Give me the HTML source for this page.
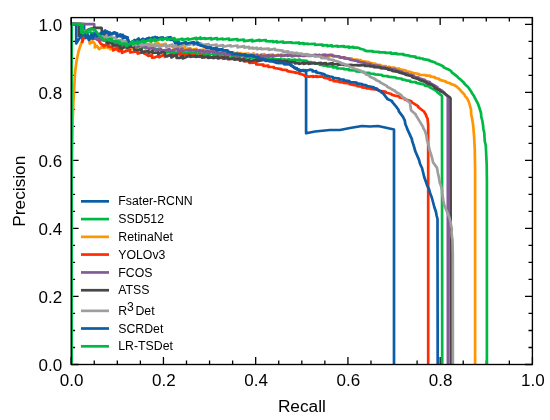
<!DOCTYPE html>
<html><head><meta charset="utf-8"><title>PR curve</title>
<style>html,body{margin:0;padding:0;background:#fff}svg{display:block}</style></head>
<body>
<svg width="550" height="420" viewBox="0 0 550 420">
<rect width="550" height="420" fill="#fff"/>
<defs><clipPath id="c"><rect x="71.2" y="17.6" width="461.2" height="346.9"/></clipPath></defs>
<path d="M71.20 364.5 v-7.4 M71.20 17.6 v7.4 M94.26 364.5 v-3.9 M94.26 17.6 v3.9 M117.32 364.5 v-3.9 M117.32 17.6 v3.9 M140.38 364.5 v-3.9 M140.38 17.6 v3.9 M163.44 364.5 v-7.4 M163.44 17.6 v7.4 M186.50 364.5 v-3.9 M186.50 17.6 v3.9 M209.56 364.5 v-3.9 M209.56 17.6 v3.9 M232.62 364.5 v-3.9 M232.62 17.6 v3.9 M255.68 364.5 v-7.4 M255.68 17.6 v7.4 M278.74 364.5 v-3.9 M278.74 17.6 v3.9 M301.80 364.5 v-3.9 M301.80 17.6 v3.9 M324.86 364.5 v-3.9 M324.86 17.6 v3.9 M347.92 364.5 v-7.4 M347.92 17.6 v7.4 M370.98 364.5 v-3.9 M370.98 17.6 v3.9 M394.04 364.5 v-3.9 M394.04 17.6 v3.9 M417.10 364.5 v-3.9 M417.10 17.6 v3.9 M440.16 364.5 v-7.4 M440.16 17.6 v7.4 M463.22 364.5 v-3.9 M463.22 17.6 v3.9 M486.28 364.5 v-3.9 M486.28 17.6 v3.9 M509.34 364.5 v-3.9 M509.34 17.6 v3.9 M532.40 364.5 v-7.4 M532.40 17.6 v7.4 M71.2 364.50 h7.4 M532.4 364.50 h-7.4 M71.2 347.49 h3.9 M532.4 347.49 h-3.9 M71.2 330.48 h3.9 M532.4 330.48 h-3.9 M71.2 313.47 h3.9 M532.4 313.47 h-3.9 M71.2 296.46 h7.4 M532.4 296.46 h-7.4 M71.2 279.45 h3.9 M532.4 279.45 h-3.9 M71.2 262.44 h3.9 M532.4 262.44 h-3.9 M71.2 245.43 h3.9 M532.4 245.43 h-3.9 M71.2 228.42 h7.4 M532.4 228.42 h-7.4 M71.2 211.41 h3.9 M532.4 211.41 h-3.9 M71.2 194.40 h3.9 M532.4 194.40 h-3.9 M71.2 177.39 h3.9 M532.4 177.39 h-3.9 M71.2 160.38 h7.4 M532.4 160.38 h-7.4 M71.2 143.37 h3.9 M532.4 143.37 h-3.9 M71.2 126.36 h3.9 M532.4 126.36 h-3.9 M71.2 109.35 h3.9 M532.4 109.35 h-3.9 M71.2 92.34 h7.4 M532.4 92.34 h-7.4 M71.2 75.33 h3.9 M532.4 75.33 h-3.9 M71.2 58.32 h3.9 M532.4 58.32 h-3.9 M71.2 41.31 h3.9 M532.4 41.31 h-3.9 M71.2 24.30 h7.4 M532.4 24.30 h-7.4" stroke="#000" stroke-width="1.3" fill="none"/>
<g clip-path="url(#c)" fill="none" stroke-width="2.7" stroke-linejoin="round" stroke-linecap="butt">
<path d="M71.5 24.2 L84.0 24.2 L84.4 37.0 L87.0 34.0 L89.0 40.0 L92.0 35.0 L94.0 38.0 L97.0 34.0 L100.0 36.0 L101.0 33.0 L101.0 34.9 L105.2 30.5 L105.2 33.7 L107.0 32.4 L109.0 33.2 L109.9 32.5 L109.9 35.6 L114.0 33.2 L116.7 33.9 L116.7 36.7 L117.0 36.6 L120.3 34.3 L120.3 36.4 L122.0 36.3 L125.0 36.4 L127.7 37.4 L127.7 39.8 L128.0 39.9 L129.0 42.0 L129.0 42.8 L131.0 42.4 L135.0 40.8 L137.0 40.1 L137.0 42.4 L143.2 38.8 L143.2 40.8 L145.0 39.9 L147.8 38.6 L147.8 40.2 L152.4 37.7 L152.4 39.6 L157.1 37.5 L157.1 39.2 L158.0 38.8 L162.9 37.5 L162.9 39.2 L165.0 38.5 L170.6 37.2 L170.6 40.0 L172.0 39.1 L175.0 40.8 L175.0 43.1 L176.0 43.9 L179.1 42.1 L179.1 45.0 L186.1 42.3 L186.1 44.1 L193.8 42.5 L193.8 44.1 L197.0 43.0 L200.2 43.6 L200.2 45.4 L205.0 46.8 L206.3 46.8 L206.3 48.2 L211.0 47.5 L211.0 49.0 L215.0 48.2 L215.3 48.2 L215.3 49.7 L222.2 49.4 L222.2 51.0 L225.0 50.7 L228.3 50.9 L228.3 52.4 L232.0 53.0 L233.7 52.9 L233.7 54.2 L237.4 52.9 L237.4 54.7 L240.0 54.7 L243.9 54.5 L243.9 56.1 L249.9 54.8 L249.9 56.7 L252.0 56.5 L256.1 56.7 L256.1 58.3 L262.0 58.3 L262.2 58.2 L262.2 59.4 L268.0 59.8 L268.0 60.6 L275.0 61.5 L276.3 61.6 L276.3 62.9 L283.9 62.9 L283.9 64.0 L290.0 64.2 L291.4 65.0 L291.4 65.8 L295.0 67.7 L297.0 68.3 L297.0 69.4 L300.0 70.5 L303.4 70.0 L303.4 70.9 L306.1 70.5 L306.1 133.3 L315.0 131.5 L330.0 130.0 L340.0 130.0 L350.0 128.0 L362.0 126.0 L370.0 126.5 L378.0 126.0 L385.0 127.5 L394.0 129.5 L394.0 364.5" stroke="#0C5DA5"/>
<path d="M71.5 24.2 L81.2 24.2 L81.2 33.5 L86.0 33.0 L90.0 32.0 L100.0 38.0 L100.0 40.0 L108.3 40.5 L108.3 43.2 L110.0 42.3 L112.2 40.8 L112.2 43.7 L119.1 42.9 L119.1 45.9 L125.0 45.3 L125.6 45.1 L125.6 47.3 L131.2 44.7 L131.2 48.4 L139.7 45.5 L139.7 47.8 L140.0 47.8 L145.4 46.7 L145.4 48.3 L149.1 46.6 L149.1 48.9 L150.0 48.5 L154.5 47.4 L154.5 49.3 L160.8 49.3 L160.8 50.6 L165.9 50.0 L165.9 52.3 L170.0 52.3 L174.4 51.5 L174.4 53.6 L182.4 51.3 L182.4 53.5 L190.0 52.1 L190.4 52.1 L190.4 54.1 L195.7 52.3 L195.7 54.2 L200.0 52.7 L200.0 54.3 L205.8 53.2 L205.8 54.6 L213.9 53.4 L213.9 55.4 L219.2 53.6 L219.2 55.5 L225.0 54.0 L225.0 55.7 L225.0 55.7 L232.1 55.2 L232.1 56.6 L237.2 55.7 L237.2 56.8 L240.0 56.5 L245.3 55.9 L245.3 58.0 L250.3 56.4 L250.3 58.0 L256.3 56.9 L256.3 58.3 L260.0 58.0 L262.8 57.7 L262.8 58.9 L268.8 58.1 L268.8 59.3 L272.7 58.3 L272.7 59.3 L280.0 59.0 L280.7 58.9 L280.7 60.1 L284.5 59.2 L284.5 60.3 L289.2 59.4 L289.2 60.4 L295.3 59.5 L295.3 60.6 L299.8 59.5 L299.8 60.3 L300.0 60.3 L306.9 60.9 L306.9 62.0 L310.0 62.0 L311.3 62.0 L311.3 62.6 L319.6 63.8 L319.6 64.8 L320.0 64.8 L323.2 64.6 L323.2 65.6 L327.4 65.6 L327.4 66.5 L328.0 66.5 L332.9 66.4 L332.9 67.4 L337.1 67.4 L337.1 68.4 L340.0 68.5 L343.7 68.6 L343.7 69.1 L348.9 69.4 L348.9 70.2 L355.0 70.4 L356.2 70.5 L356.2 71.5 L363.5 71.8 L363.5 72.5 L369.4 72.8 L369.4 73.5 L374.4 73.8 L374.4 74.3 L375.0 74.4 L382.3 75.0 L382.3 75.8 L387.8 76.1 L387.8 76.6 L390.0 76.8 L396.1 77.5 L396.1 78.1 L400.0 78.5 L401.7 78.7 L401.7 79.3 L405.9 80.0 L405.9 80.4 L410.0 80.8 L410.2 80.8 L410.2 81.8 L416.2 82.2 L416.2 83.0 L420.0 83.6 L424.7 84.8 L424.7 85.6 L429.5 86.4 L429.5 87.3 L430.0 87.4 L437.0 91.2 L437.0 91.9 L437.0 91.9 L442.0 95.9 L442.2 364.5" stroke="#00B945"/>
<path d="M71.2 364.5 L71.3 210.0 L71.9 160.0 L72.7 120.0 L73.5 100.0 L74.3 86.0 L75.0 73.0 L76.4 62.0 L78.6 51.0 L81.3 43.3 L83.0 39.0 L84.5 36.3 L87.0 35.5 L89.0 36.3 L89.7 43.5 L93.0 41.5 L95.0 44.0 L94.8 47.5 L97.0 46.0 L99.0 49.0 L103.0 46.5 L103.7 46.4 L103.7 48.0 L106.0 46.7 L108.0 48.0 L110.2 46.6 L110.2 49.3 L112.0 47.4 L113.8 46.8 L113.8 50.0 L116.0 49.4 L118.4 47.2 L118.4 50.0 L122.0 48.0 L126.1 45.7 L126.1 48.9 L128.0 47.1 L130.4 44.9 L130.4 48.6 L135.0 45.7 L136.5 44.7 L136.5 47.7 L140.3 44.9 L140.3 46.6 L141.0 46.3 L145.3 43.8 L145.3 46.6 L150.0 43.6 L151.2 43.0 L151.2 45.9 L158.0 43.1 L158.3 43.1 L158.3 45.1 L163.0 44.4 L165.8 43.9 L165.8 46.1 L173.7 46.1 L173.7 48.3 L175.0 47.8 L178.2 46.5 L178.2 48.4 L184.9 47.4 L184.9 49.1 L185.0 49.1 L190.3 48.2 L190.3 50.1 L196.7 48.8 L196.7 50.7 L200.0 50.2 L204.9 49.6 L204.9 51.2 L211.7 50.6 L211.7 52.6 L215.0 52.3 L220.1 51.7 L220.1 53.0 L227.1 52.2 L227.1 53.8 L230.0 53.6 L233.5 53.1 L233.5 54.6 L241.3 53.1 L241.3 54.2 L242.0 54.1 L248.0 53.6 L248.8 53.6 L248.8 55.0 L253.7 53.5 L253.7 55.3 L257.5 54.4 L257.5 55.4 L260.0 55.0 L264.5 54.1 L264.5 55.7 L272.9 54.7 L272.9 55.7 L275.0 55.5 L278.0 54.7 L278.0 55.7 L281.7 54.6 L281.7 55.4 L288.2 54.3 L288.2 55.0 L290.0 54.7 L296.0 54.4 L296.0 55.6 L300.0 55.5 L304.0 55.0 L304.0 56.1 L310.1 54.9 L310.1 56.1 L316.4 54.8 L316.4 56.0 L320.0 55.3 L322.5 55.0 L322.5 56.0 L327.1 55.0 L327.1 56.3 L333.3 55.7 L333.3 56.5 L335.0 56.3 L338.8 56.4 L338.8 57.2 L345.4 57.4 L345.4 58.1 L350.0 58.3 L352.0 58.5 L352.0 59.4 L357.3 59.5 L357.3 60.2 L360.9 60.2 L360.9 61.0 L365.0 61.5 L369.2 62.2 L369.2 62.9 L375.7 63.9 L375.7 64.5 L380.8 65.0 L380.8 65.8 L385.0 66.2 L385.8 66.2 L385.8 67.0 L389.4 66.8 L389.4 67.5 L394.4 67.6 L394.4 68.3 L399.1 68.5 L399.1 69.1 L400.0 69.2 L406.1 70.5 L406.1 71.3 L410.0 71.9 L411.3 72.0 L411.3 72.6 L419.1 74.0 L419.1 74.8 L420.0 74.9 L425.8 75.0 L425.8 75.6 L430.0 75.7 L430.5 75.8 L430.5 76.6 L434.9 77.2 L434.9 78.0 L439.3 78.8 L439.3 79.7 L440.0 79.9 L446.0 81.6 L446.0 82.1 L450.0 83.2 L450.2 83.2 L450.2 83.8 L455.0 85.4 L455.0 85.8 L456.0 86.1 L460.6 90.3 L460.6 90.8 L462.0 92.0 L464.9 95.1 L464.9 95.9 L467.0 98.2 L468.9 102.0 L470.0 106.0 L471.1 110.0 L471.1 114.0 L472.0 118.0 L472.7 122.2 L473.3 126.5 L473.6 130.8 L474.0 135.0 L474.8 150.0 L475.1 170.0 L475.1 364.5" stroke="#FF9500"/>
<path d="M71.5 24.2 L82.3 24.2 L82.3 42.0 L84.3 36.0 L88.0 37.0 L92.0 39.0 L96.0 38.0 L99.0 41.0 L101.0 44.0 L103.7 45.3 L103.7 46.2 L104.0 46.2 L108.0 43.2 L108.0 46.3 L108.0 46.3 L112.0 47.0 L113.0 49.0 L113.0 50.5 L117.0 47.7 L117.6 48.1 L117.6 50.1 L119.0 51.3 L122.0 50.0 L122.0 52.9 L125.0 51.5 L130.1 49.7 L130.1 52.5 L135.0 51.6 L137.6 51.1 L137.6 53.6 L144.2 51.5 L144.2 53.6 L145.0 53.5 L148.0 55.8 L152.1 55.4 L152.1 57.7 L155.0 57.3 L159.0 55.8 L159.0 57.2 L163.0 55.2 L164.9 54.3 L164.9 57.0 L172.7 54.3 L172.7 56.3 L175.0 55.4 L180.7 53.5 L180.7 55.7 L188.5 54.3 L188.5 55.7 L190.0 55.4 L195.0 55.0 L195.0 56.5 L200.0 55.6 L200.0 56.8 L203.7 55.8 L203.7 57.1 L209.9 56.4 L209.9 57.5 L210.0 57.5 L218.4 56.9 L218.4 58.4 L222.9 57.3 L222.9 58.8 L225.0 58.3 L228.2 57.6 L228.2 59.2 L234.5 58.2 L234.5 59.2 L238.3 58.0 L238.3 59.4 L240.0 59.2 L244.9 59.8 L244.9 61.2 L249.3 61.4 L249.3 62.8 L250.0 62.8 L256.2 62.4 L256.2 64.5 L263.4 64.7 L263.4 65.9 L265.0 65.8 L268.4 65.6 L268.4 67.0 L273.9 67.0 L273.9 68.0 L280.0 68.8 L281.5 69.0 L281.5 69.7 L287.2 70.2 L287.2 71.1 L295.0 72.3 L295.5 72.3 L295.5 73.0 L299.3 72.7 L299.3 73.8 L300.0 73.8 L304.6 75.3 L304.6 76.1 L305.0 76.2 L309.0 76.6 L313.0 76.2 L313.0 76.9 L316.8 76.2 L316.8 76.9 L322.0 76.4 L323.7 76.9 L323.7 77.6 L327.0 78.3 L329.6 78.6 L329.6 79.8 L333.7 79.8 L333.7 81.2 L337.0 81.3 L339.3 81.2 L339.3 82.2 L344.0 82.3 L344.0 82.9 L347.0 83.1 L349.6 83.3 L349.6 84.2 L357.2 85.6 L357.2 86.1 L360.0 86.5 L362.0 86.7 L362.0 87.5 L365.0 87.7 L366.7 87.8 L366.7 88.5 L370.4 88.3 L370.4 89.0 L375.0 89.4 L378.9 90.0 L378.9 90.9 L385.0 91.6 L385.7 91.8 L385.7 92.5 L391.6 94.0 L391.6 94.8 L395.0 95.6 L399.5 96.5 L399.5 97.5 L404.7 98.4 L404.7 99.4 L405.0 99.4 L411.4 101.4 L411.4 102.2 L412.0 102.4 L418.0 106.2 L418.2 106.3 L418.2 107.2 L424.0 111.5 L426.3 115.5 L426.3 116.3 L427.5 118.4 L428.2 125.0 L428.2 364.5" stroke="#FF2C00"/>
<path d="M71.5 24.2 L94.2 24.2 L94.5 38.0 L97.0 39.5 L100.0 38.0 L100.0 39.7 L105.0 40.1 L106.6 39.6 L106.6 43.2 L112.0 42.3 L114.8 41.7 L114.8 45.1 L118.5 42.6 L118.5 46.6 L120.0 46.3 L125.2 44.4 L125.2 46.3 L130.0 44.5 L131.1 44.0 L131.1 46.3 L137.4 44.5 L137.4 47.0 L140.0 45.5 L142.3 44.7 L142.3 47.5 L146.6 46.5 L146.6 47.8 L150.0 48.0 L153.2 48.2 L153.2 49.6 L158.0 49.8 L161.1 49.2 L161.1 51.5 L169.5 49.1 L169.5 51.1 L170.0 51.0 L177.8 48.7 L177.8 51.5 L182.3 48.7 L182.3 51.0 L190.0 49.5 L190.6 49.5 L190.6 50.6 L196.0 50.1 L196.0 51.2 L199.8 50.2 L199.8 51.8 L200.0 51.8 L203.3 50.6 L203.3 52.2 L208.3 50.8 L208.3 52.3 L213.4 51.0 L213.4 53.0 L215.0 52.5 L217.2 51.9 L217.2 53.3 L224.5 53.0 L224.5 54.1 L225.0 54.0 L231.9 53.7 L231.9 55.0 L235.0 54.6 L235.4 54.5 L235.4 55.6 L243.7 54.7 L243.7 56.6 L250.0 55.8 L251.9 55.4 L251.9 56.8 L257.1 55.1 L257.1 56.9 L261.2 55.0 L261.2 56.3 L265.0 55.8 L269.0 55.2 L269.0 56.4 L272.9 55.3 L272.9 56.3 L281.0 55.0 L281.0 56.1 L287.3 55.2 L287.3 55.9 L291.6 55.2 L291.6 56.3 L295.0 55.7 L298.6 55.2 L298.6 56.2 L302.3 55.0 L302.3 55.9 L307.9 54.9 L307.9 56.0 L310.0 55.7 L315.5 54.8 L315.5 56.0 L319.3 54.8 L319.3 55.8 L322.0 55.2 L325.2 54.7 L325.2 55.7 L330.0 54.9 L332.4 54.9 L332.4 55.8 L339.8 56.5 L339.8 57.6 L344.1 57.4 L344.1 58.4 L345.0 58.4 L349.8 58.8 L349.8 59.6 L358.2 61.2 L358.2 61.9 L360.0 62.2 L365.4 62.9 L365.4 63.5 L370.9 64.1 L370.9 65.0 L379.3 65.9 L379.3 66.7 L380.0 66.8 L385.3 67.3 L385.3 68.0 L390.2 68.0 L390.2 69.0 L395.0 69.1 L395.5 69.2 L395.5 70.1 L400.0 71.4 L402.5 71.8 L402.5 72.7 L407.8 73.5 L407.8 74.3 L410.0 74.6 L413.7 75.5 L413.7 76.5 L418.7 77.5 L418.7 78.2 L420.0 78.6 L425.1 80.1 L425.1 81.0 L429.8 82.1 L429.8 82.9 L430.0 82.9 L437.4 87.1 L437.4 88.0 L438.0 88.3 L442.7 91.2 L442.7 91.9 L445.0 93.6 L447.8 96.8 L447.9 364.5" stroke="#845B97"/>
<path d="M71.5 24.2 L78.9 24.2 L78.9 36.0 L82.0 33.0 L86.0 31.0 L90.0 29.0 L94.5 27.8 L101.5 27.8 L102.0 31.5 L102.0 32.2 L104.0 35.7 L106.8 38.6 L106.8 42.0 L108.0 43.2 L112.0 43.1 L112.7 43.0 L112.7 45.4 L117.0 45.4 L120.0 45.4 L120.0 48.5 L122.0 48.5 L127.2 45.6 L127.2 48.0 L130.0 46.5 L134.1 47.0 L134.1 49.6 L135.0 49.7 L140.0 49.8 L141.6 49.3 L141.6 52.6 L148.5 50.9 L148.5 53.2 L150.0 52.4 L152.5 50.9 L152.5 53.0 L158.0 52.3 L158.2 52.2 L158.2 53.9 L163.0 52.1 L164.9 52.9 L164.9 55.2 L167.0 56.1 L171.3 54.8 L171.3 57.5 L175.0 55.4 L176.6 55.1 L176.6 57.9 L180.0 57.8 L182.7 56.2 L182.7 58.5 L190.0 55.6 L190.2 55.6 L190.2 56.8 L195.5 56.0 L195.5 57.0 L200.0 56.4 L202.0 56.1 L202.0 57.6 L208.1 56.5 L208.1 57.9 L210.0 57.6 L213.2 56.9 L213.2 58.1 L217.4 56.7 L217.4 58.1 L224.4 57.0 L224.4 58.6 L225.0 58.3 L227.9 57.4 L227.9 59.0 L234.5 58.6 L234.5 59.7 L240.0 58.9 L240.0 60.7 L240.0 60.7 L243.8 59.2 L243.8 61.2 L249.2 59.7 L249.2 61.3 L255.0 60.2 L257.6 59.6 L257.6 61.2 L265.6 59.5 L265.6 61.0 L273.1 60.0 L273.1 61.0 L275.0 60.8 L280.1 60.7 L280.1 61.4 L287.3 61.2 L287.3 62.1 L290.0 62.1 L294.8 62.4 L294.8 63.3 L298.9 62.9 L298.9 63.8 L300.0 63.7 L303.7 62.8 L303.7 63.9 L308.4 62.7 L308.4 63.8 L315.0 62.9 L315.0 63.7 L320.9 62.9 L320.9 64.0 L322.0 63.7 L325.9 63.1 L325.9 64.3 L332.7 63.2 L332.7 64.5 L337.0 64.0 L338.1 63.9 L338.1 64.8 L343.6 64.1 L343.6 65.0 L347.0 65.1 L351.8 64.9 L351.8 65.3 L357.5 65.0 L357.5 65.5 L360.0 65.3 L364.9 65.0 L364.9 66.0 L365.0 66.0 L370.2 65.8 L370.2 66.5 L374.0 66.3 L374.0 67.2 L380.6 67.4 L380.6 68.2 L385.0 68.4 L388.1 69.0 L388.1 69.7 L392.1 70.2 L392.1 70.8 L398.8 71.9 L398.8 72.4 L400.0 72.6 L405.4 74.2 L405.4 74.7 L410.0 75.8 L412.1 76.3 L412.1 77.3 L418.8 79.3 L418.8 79.7 L420.0 80.1 L426.4 82.2 L426.4 83.1 L430.0 84.1 L434.5 86.6 L434.5 87.5 L438.0 89.4 L440.3 90.3 L440.3 91.2 L444.4 92.8 L444.4 93.5 L445.0 93.8 L450.1 97.5 L450.1 98.0 L450.5 98.3 L450.8 364.5" stroke="#474747"/>
<path d="M71.5 24.2 L81.8 24.2 L81.8 31.0 L88.0 30.5 L92.0 29.5 L95.0 31.0 L98.0 34.5 L101.0 36.5 L103.1 36.5 L103.1 38.0 L104.0 37.4 L107.0 35.6 L107.0 38.3 L110.8 36.5 L110.8 38.1 L113.0 37.7 L116.4 37.9 L116.4 40.6 L120.0 40.1 L122.1 39.9 L122.1 42.4 L126.7 40.5 L126.7 43.8 L128.0 43.6 L133.1 41.6 L133.1 45.5 L136.8 43.0 L136.8 44.8 L140.0 44.0 L141.0 43.7 L141.0 45.3 L148.6 44.1 L148.6 46.2 L155.3 44.6 L155.3 46.4 L158.0 45.6 L159.1 45.2 L159.1 47.0 L166.0 44.8 L166.0 46.7 L170.0 45.3 L172.4 44.5 L172.4 46.7 L179.9 44.4 L179.9 46.3 L185.0 44.0 L186.3 43.4 L186.3 45.5 L193.4 43.4 L193.4 45.1 L197.5 43.2 L197.5 44.9 L200.0 44.1 L201.8 43.8 L201.8 45.1 L205.0 44.6 L208.6 44.1 L208.6 45.5 L215.0 44.9 L216.5 44.7 L216.5 46.3 L223.0 45.1 L223.0 46.8 L230.0 45.4 L230.7 45.3 L230.7 46.5 L237.5 45.5 L237.5 47.5 L240.0 46.8 L244.2 46.1 L244.2 47.7 L249.1 46.9 L249.1 48.4 L252.8 47.7 L252.8 48.6 L255.0 48.2 L256.8 47.7 L256.8 49.2 L261.0 48.1 L261.0 49.1 L268.9 48.7 L268.9 49.9 L275.0 48.9 L275.1 48.9 L275.1 49.9 L282.9 50.6 L282.9 51.8 L288.2 51.4 L288.2 52.5 L290.0 52.5 L292.5 52.5 L292.5 53.3 L297.1 52.9 L297.1 53.7 L301.9 53.6 L301.9 54.6 L305.0 54.3 L307.3 54.2 L307.3 55.4 L314.2 55.5 L314.2 56.3 L320.0 56.5 L321.1 56.6 L321.1 57.9 L328.5 58.3 L328.5 59.4 L330.0 59.5 L334.0 60.1 L334.0 60.7 L337.0 61.3 L340.7 62.5 L340.7 63.1 L344.0 64.0 L345.2 64.4 L345.2 64.9 L349.0 65.9 L349.0 66.5 L351.0 67.1 L353.0 67.6 L353.0 68.2 L358.0 69.8 L360.8 70.8 L360.8 71.3 L362.0 71.7 L365.6 73.4 L365.6 74.2 L369.7 75.8 L369.7 76.7 L370.0 76.8 L375.6 79.3 L375.6 79.9 L379.6 81.5 L379.6 82.0 L380.0 82.2 L387.2 86.1 L387.2 86.7 L390.0 88.2 L395.5 91.3 L395.5 91.8 L400.0 94.3 L401.7 95.5 L401.7 96.3 L405.0 98.6 L410.0 103.1 L411.0 110.0 L411.0 110.3 L415.8 114.6 L415.8 115.2 L416.0 115.4 L420.0 121.9 L423.2 127.2 L423.2 128.0 L425.0 131.0 L426.4 135.5 L427.0 140.0 L428.6 145.0 L429.5 150.0 L430.9 154.0 L432.1 158.0 L433.0 162.0 L433.0 162.3 L437.0 167.9 L437.9 173.0 L439.0 178.0 L439.6 182.0 L441.0 186.0 L442.0 190.0 L442.1 193.5 L442.8 197.0 L443.3 200.5 L444.0 204.0 L444.0 204.4 L448.0 214.0 L449.4 217.7 L450.4 221.3 L451.0 225.0 L451.8 228.8 L451.6 232.5 L451.9 236.2 L452.5 240.0 L452.8 255.0 L452.9 364.5" stroke="#9e9e9e"/>
<path d="M71.5 24.2 L76.2 24.2 L76.2 43.5 L79.0 39.0 L82.5 34.7 L84.5 33.0 L86.0 38.0 L88.0 35.0 L89.0 40.0 L91.5 34.5 L93.0 38.0 L95.0 33.5 L97.0 36.0 L101.0 33.0 L101.6 32.9 L101.6 33.7 L107.0 31.4 L108.7 32.6 L108.7 34.7 L109.0 34.9 L114.0 32.4 L117.0 33.4 L117.2 33.4 L117.2 36.4 L122.0 35.0 L122.9 34.9 L122.9 38.2 L125.0 37.6 L127.4 37.7 L127.4 39.4 L128.0 39.5 L129.0 42.0 L129.0 44.0 L131.0 42.8 L134.5 40.0 L134.5 42.4 L135.0 41.9 L138.6 38.5 L138.6 41.8 L142.4 39.0 L142.4 40.9 L145.0 39.6 L149.2 37.8 L149.2 40.3 L155.2 37.0 L155.2 39.2 L158.0 38.3 L161.6 37.5 L161.6 39.2 L165.0 38.3 L169.9 37.6 L169.9 39.5 L172.0 39.0 L176.0 42.8 L178.1 42.1 L178.1 44.3 L186.0 42.3 L186.0 43.7 L193.9 42.1 L193.9 44.0 L197.0 42.5 L197.9 42.5 L197.9 44.4 L205.0 46.5 L206.1 46.5 L206.1 47.7 L210.6 47.4 L210.6 48.6 L215.0 48.4 L216.7 48.2 L216.7 50.1 L222.7 49.6 L222.7 50.5 L225.0 50.4 L227.4 50.7 L227.4 52.0 L232.0 52.4 L232.2 52.4 L232.2 54.1 L239.9 54.0 L239.9 55.0 L240.0 55.0 L245.4 54.3 L245.4 55.7 L252.0 55.4 L253.8 55.6 L253.8 56.9 L258.8 57.1 L258.8 58.5 L262.0 58.8 L264.0 58.8 L264.0 59.9 L268.6 60.1 L268.6 61.1 L274.2 61.4 L274.2 62.1 L275.0 62.2 L278.2 62.2 L278.2 63.0 L284.3 62.9 L284.3 64.2 L290.0 63.8 L290.3 64.0 L290.3 65.0 L294.1 67.1 L294.1 67.9 L295.0 68.4 L299.6 69.7 L299.6 71.0 L300.0 71.2 L304.8 70.2 L304.8 70.9 L306.0 70.7 L310.0 69.7 L312.5 70.1 L312.5 71.5 L316.2 71.2 L316.2 72.4 L320.0 73.1 L324.6 74.3 L324.6 75.1 L330.0 76.5 L333.0 77.0 L333.0 77.8 L339.5 78.7 L339.5 79.5 L340.0 79.5 L343.8 79.7 L343.8 80.4 L349.5 81.2 L349.5 82.0 L350.0 82.1 L356.7 82.7 L356.7 83.4 L360.0 83.8 L362.1 84.1 L362.1 84.7 L366.6 85.4 L366.6 86.0 L370.0 86.5 L373.8 87.4 L373.8 88.2 L377.0 88.7 L377.4 88.9 L377.4 89.8 L381.3 91.4 L381.3 92.3 L383.0 93.2 L387.0 98.3 L387.3 98.4 L387.3 99.1 L392.0 101.0 L392.0 101.7 L392.0 101.7 L397.0 107.7 L398.7 110.2 L398.7 111.1 L403.0 116.9 L404.8 120.7 L405.4 124.3 L407.0 128.0 L407.0 128.4 L412.0 139.4 L412.0 140.5 L412.0 140.5 L413.5 145.0 L415.0 150.0 L415.0 150.5 L419.0 159.9 L420.1 164.0 L422.0 168.0 L423.0 172.0 L424.2 177.0 L426.0 182.0 L427.2 185.7 L429.1 189.3 L430.0 193.0 L431.8 197.5 L433.0 202.0 L434.3 207.0 L436.0 212.0 L436.6 215.5 L437.5 219.0 L437.7 364.5" stroke="#0C5DA5"/>
<path d="M71.7 364.5 L71.7 24.1 L81.2 24.1 L81.3 32.5 L82.5 25.0 L82.7 33.4 L86.0 31.5 L88.0 30.0 L92.0 28.7 L95.0 30.0 L98.0 34.0 L101.0 37.0 L103.8 39.8 L103.8 40.6 L104.0 40.7 L108.0 39.6 L111.6 38.9 L111.6 41.2 L113.0 40.9 L118.0 41.5 L119.6 41.5 L119.6 43.8 L123.0 43.7 L126.2 43.6 L126.2 46.2 L127.0 46.0 L131.0 42.8 L133.2 41.3 L133.2 44.1 L135.0 43.0 L137.5 41.4 L137.5 43.8 L140.0 42.2 L143.6 40.3 L143.6 42.4 L150.0 39.8 L150.9 39.3 L150.9 41.5 L154.9 38.9 L154.9 41.2 L158.0 40.1 L162.1 38.6 L162.1 40.0 L165.0 38.6 L166.9 38.1 L166.9 39.7 L172.0 38.5 L174.4 38.0 L174.4 40.1 L180.0 39.3 L182.3 38.7 L182.3 40.0 L188.3 38.6 L188.3 39.7 L196.3 37.9 L196.3 39.5 L200.0 37.7 L200.4 37.5 L200.4 38.9 L205.0 38.1 L205.0 38.9 L211.2 38.1 L211.2 39.5 L215.0 38.4 L217.1 38.0 L217.1 39.5 L222.6 38.6 L222.6 39.5 L229.0 38.6 L229.0 39.9 L230.0 39.8 L237.3 39.0 L237.3 40.3 L243.9 39.5 L243.9 41.2 L248.0 40.6 L252.3 39.9 L252.3 41.4 L259.4 39.9 L259.4 40.8 L265.0 40.0 L265.9 40.0 L265.9 41.2 L270.0 41.3 L272.8 41.0 L272.8 42.1 L276.7 41.2 L276.7 42.3 L283.1 41.7 L283.1 42.7 L290.0 42.4 L291.6 42.3 L291.6 43.0 L299.1 42.7 L299.1 43.7 L303.6 43.1 L303.6 44.1 L307.6 43.5 L307.6 44.1 L310.0 44.0 L315.0 43.8 L315.0 44.9 L322.5 44.5 L322.5 45.7 L327.3 45.0 L327.3 46.2 L330.0 45.7 L331.9 45.4 L331.9 46.5 L337.3 45.8 L337.3 46.6 L340.0 46.4 L344.1 46.1 L344.1 47.0 L348.9 46.6 L348.9 47.7 L353.3 46.9 L353.3 47.7 L358.0 47.7 L359.8 48.2 L359.8 48.8 L364.4 49.7 L364.4 50.4 L367.0 51.1 L372.7 51.2 L372.7 51.7 L379.0 51.8 L379.0 52.4 L385.0 52.3 L385.3 52.3 L385.3 53.0 L391.0 52.6 L391.0 53.6 L396.5 53.4 L396.5 54.1 L400.0 54.0 L403.5 54.2 L403.5 54.9 L409.5 55.7 L409.5 56.2 L415.0 56.7 L415.6 56.7 L415.6 57.6 L419.6 57.8 L419.6 58.3 L423.1 58.5 L423.1 59.2 L429.4 60.1 L429.4 60.9 L430.0 60.9 L435.3 62.5 L435.3 63.1 L440.0 64.8 L443.5 66.4 L443.5 67.2 L450.0 70.3 L451.5 71.5 L451.5 72.1 L457.7 76.9 L457.7 77.3 L460.0 79.1 L464.4 83.2 L464.4 83.7 L468.0 87.1 L471.5 92.1 L471.5 92.5 L474.0 96.1 L478.0 103.8 L479.6 108.5 L481.0 113.0 L481.3 117.0 L482.4 121.0 L483.0 125.0 L483.4 129.0 L484.3 133.0 L484.5 137.0 L484.8 141.3 L485.8 145.7 L486.0 150.0 L486.7 165.0 L486.9 180.0 L486.9 364.5" stroke="#00B945"/>
</g>
<rect x="71.2" y="17.6" width="461.2" height="346.9" fill="none" stroke="#000" stroke-width="1.35"/>
<g font-family="Liberation Sans, Arial, Helvetica, sans-serif" fill="#000">
<text x="71.6" y="385.8" font-size="17.0" text-anchor="middle">0.0</text>
<text x="163.8" y="385.8" font-size="17.0" text-anchor="middle">0.2</text>
<text x="256.1" y="385.8" font-size="17.0" text-anchor="middle">0.4</text>
<text x="348.3" y="385.8" font-size="17.0" text-anchor="middle">0.6</text>
<text x="440.6" y="385.8" font-size="17.0" text-anchor="middle">0.8</text>
<text x="532.8" y="385.8" font-size="17.0" text-anchor="middle">1.0</text>
<text x="62.25" y="370.9" font-size="17.0" text-anchor="end">0.0</text>
<text x="62.25" y="302.9" font-size="17.0" text-anchor="end">0.2</text>
<text x="62.25" y="234.8" font-size="17.0" text-anchor="end">0.4</text>
<text x="62.25" y="166.8" font-size="17.0" text-anchor="end">0.6</text>
<text x="62.25" y="98.7" font-size="17.0" text-anchor="end">0.8</text>
<text x="62.25" y="30.7" font-size="17.0" text-anchor="end">1.0</text>
<text x="301.9" y="412.2" font-size="17.3" text-anchor="middle">Recall</text>
<text transform="translate(25.2 191.2) rotate(-90)" font-size="17.25" text-anchor="middle">Precision</text>
<path d="M81 201.35 H109" stroke="#0C5DA5" stroke-width="2.7"/>
<text x="118.25" y="205.4" font-size="12.3">Fsater-RCNN</text>
<path d="M81 219.1 H109" stroke="#00B945" stroke-width="2.7"/>
<text x="118.25" y="223.2" font-size="12.3">SSD512</text>
<path d="M81 236.85 H109" stroke="#FF9500" stroke-width="2.7"/>
<text x="118.25" y="240.9" font-size="12.3">RetinaNet</text>
<path d="M81 254.55 H109" stroke="#FF2C00" stroke-width="2.7"/>
<text x="118.25" y="258.7" font-size="12.3">YOLOv3</text>
<path d="M81 272.45 H109" stroke="#845B97" stroke-width="2.7"/>
<text x="118.25" y="276.6" font-size="12.3">FCOS</text>
<path d="M81 290.25 H109" stroke="#474747" stroke-width="2.7"/>
<text x="118.25" y="294.4" font-size="12.3">ATSS</text>
<path d="M81 310.85 H109" stroke="#9e9e9e" stroke-width="2.7"/>
<text x="118.25" y="315.0" font-size="12.3">R<tspan dx="-0.1" dy="-4.2" font-size="12.2">3</tspan><tspan dx="1.6" dy="4.2">Det</tspan></text>
<path d="M81 328.5 H109" stroke="#0C5DA5" stroke-width="2.7"/>
<text x="118.25" y="332.6" font-size="12.3">SCRDet</text>
<path d="M81 346.3 H109" stroke="#00B945" stroke-width="2.7"/>
<text x="118.25" y="350.4" font-size="12.3">LR-TSDet</text>
</g>
</svg>
</body></html>
